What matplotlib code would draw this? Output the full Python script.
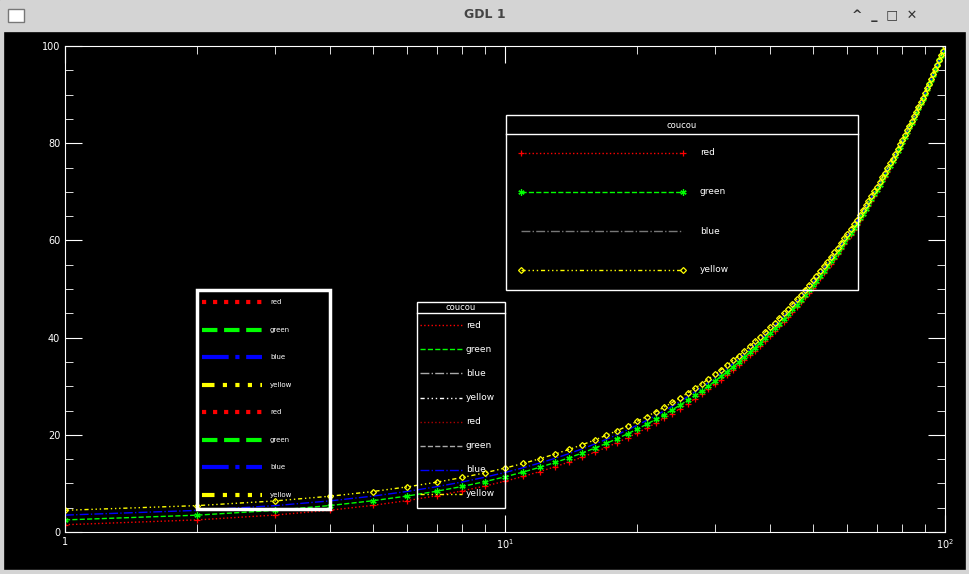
import matplotlib
matplotlib.use("Agg")
import matplotlib.pyplot as plt
from matplotlib.patches import Rectangle
from matplotlib.lines import Line2D
import numpy as np

W, H = 970, 574
x_vals = list(range(1, 101))
series_names = ["red", "green", "blue", "yellow"]
series_colors = ["red", "#00ff00", "blue", "yellow"]
series_offsets = [0.5, 1.5, 2.5, 3.5]
series_markers = ["+", (6, 2, 0), None, "D"]
series_styles = [":", "--", "-.", (0, (3, 2, 1, 2, 1, 2, 1, 2))]
xtick_vals = [1, 10, 100]
xtick_labels = ["1", "10$^1$", "10$^2$"]
ytick_vals = [0, 20, 40, 60, 80, 100]

fig = plt.figure(figsize=(W/100, H/100), dpi=100)
fig.patch.set_facecolor("black")

def fx(px): return px / W
def fy(py): return 1 - py / H

# window chrome
fig.add_artist(Rectangle((0, fy(28)), 1, 28/H, transform=fig.transFigure, color="#d4d4d4", zorder=0))
fig.text(0.5, fy(15), "GDL 1", ha="center", va="center", color="#444444", fontsize=9, fontweight="bold")
fig.add_artist(Rectangle((fx(8), fy(22)), 16/W, 13/H, transform=fig.transFigure, fc="white", ec="#777777"))
fig.text(fx(885), fy(15), "^  _  □  ✕", ha="center", va="center", color="#333333", fontsize=9, fontweight="bold")
fig.add_artist(Rectangle((0, 0), 1, fy(28), transform=fig.transFigure, fill=False, ec="#d4d4d4", lw=6))

def msz(m):
    return 3 if m == "D" else 4.5

ax = fig.add_axes([fx(65), fy(532), fx(945)-fx(65), (532-46)/H])
ax.set_facecolor("black")
x = np.array(x_vals, dtype=float)
for name, c, off, m, ls in zip(series_names, series_colors, series_offsets, series_markers, series_styles):
    y = off + x * (100 - off) / 100
    ax.plot(x, y, color=c, ls=ls, lw=1, marker=m, ms=msz(m),
            mfc="none" if m == "D" else c, mec=c, mew=0.9)
ax.set_xscale("log")
ax.set_xlim(1, 100)
ax.set_ylim(0, 100)
ax.set_xticks(xtick_vals)
ax.set_xticklabels(xtick_labels)
ax.set_yticks(ytick_vals)
ax.set_yticks(np.arange(0, 101, 5), minor=True)
for s in ax.spines.values():
    s.set_color("white")
ax.tick_params(which="both", colors="white", direction="in", top=True, right=True, labelsize=7)
ax.tick_params(which="major", length=12)
ax.tick_params(which="minor", length=6)

def seg(x0, x1, py, **kw):
    fig.add_artist(Line2D([fx(x0), fx(x1)], [fy(py), fy(py)], transform=fig.transFigure, **kw))

def box(x0, y0, x1, y1, lw):
    fig.add_artist(Rectangle((fx(x0), fy(y1)), (x1-x0)/W, (y1-y0)/H, transform=fig.transFigure,
                             fill=False, ec="white", lw=lw, zorder=5))

# legend 1
box(197, 290, 330, 509, 2.5)
for i, py in enumerate([302, 330, 357, 385, 412, 440, 467, 495]):
    k = i % 4
    seg(202, 262, py, color=series_colors[k], ls=series_styles[k], lw=3, zorder=6)
    fig.text(fx(270), fy(py), series_names[k], color="white", fontsize=5, va="center", zorder=6)

# legend 2
box(417, 302, 505, 508, 1)
seg(417, 505, 313, color="white", lw=1, zorder=6)
fig.text(fx(461), fy(307), "coucou", color="white", fontsize=6, ha="center", va="center")
l2_colors = ["red", "#00ff00", "#aaaaaa", "white", "#aa0000", "#aaaaaa", "blue", "yellow"]
for i, py in enumerate([325, 349, 373, 398, 422, 446, 470, 494]):
    k = i % 4
    seg(420, 462, py, color=l2_colors[i], ls=series_styles[k], lw=1, zorder=6)
    fig.text(fx(466), fy(py), series_names[k], color="white", fontsize=6.5, va="center", zorder=6)

# legend 3
box(506, 115, 858, 290, 1)
seg(506, 858, 134, color="white", lw=1)
fig.text(fx(682), fy(125), "coucou", color="white", fontsize=6, ha="center", va="center")
l3_colors = ["red", "#00ff00", "#777777", "yellow"]
for k, py in enumerate([153, 192, 231, 270]):
    m = series_markers[k]
    fig.add_artist(Line2D([fx(521), fx(683)], [fy(py), fy(py)], transform=fig.transFigure,
                          color=l3_colors[k], ls=series_styles[k], lw=1, marker=m,
                          ms=msz(m), mfc="none" if m == "D" else l3_colors[k],
                          mec=l3_colors[k], mew=0.9))
    fig.text(fx(700), fy(py), series_names[k], color="white", fontsize=6.5, va="center")

fig.savefig("out.png", dpi=100, facecolor="black")
